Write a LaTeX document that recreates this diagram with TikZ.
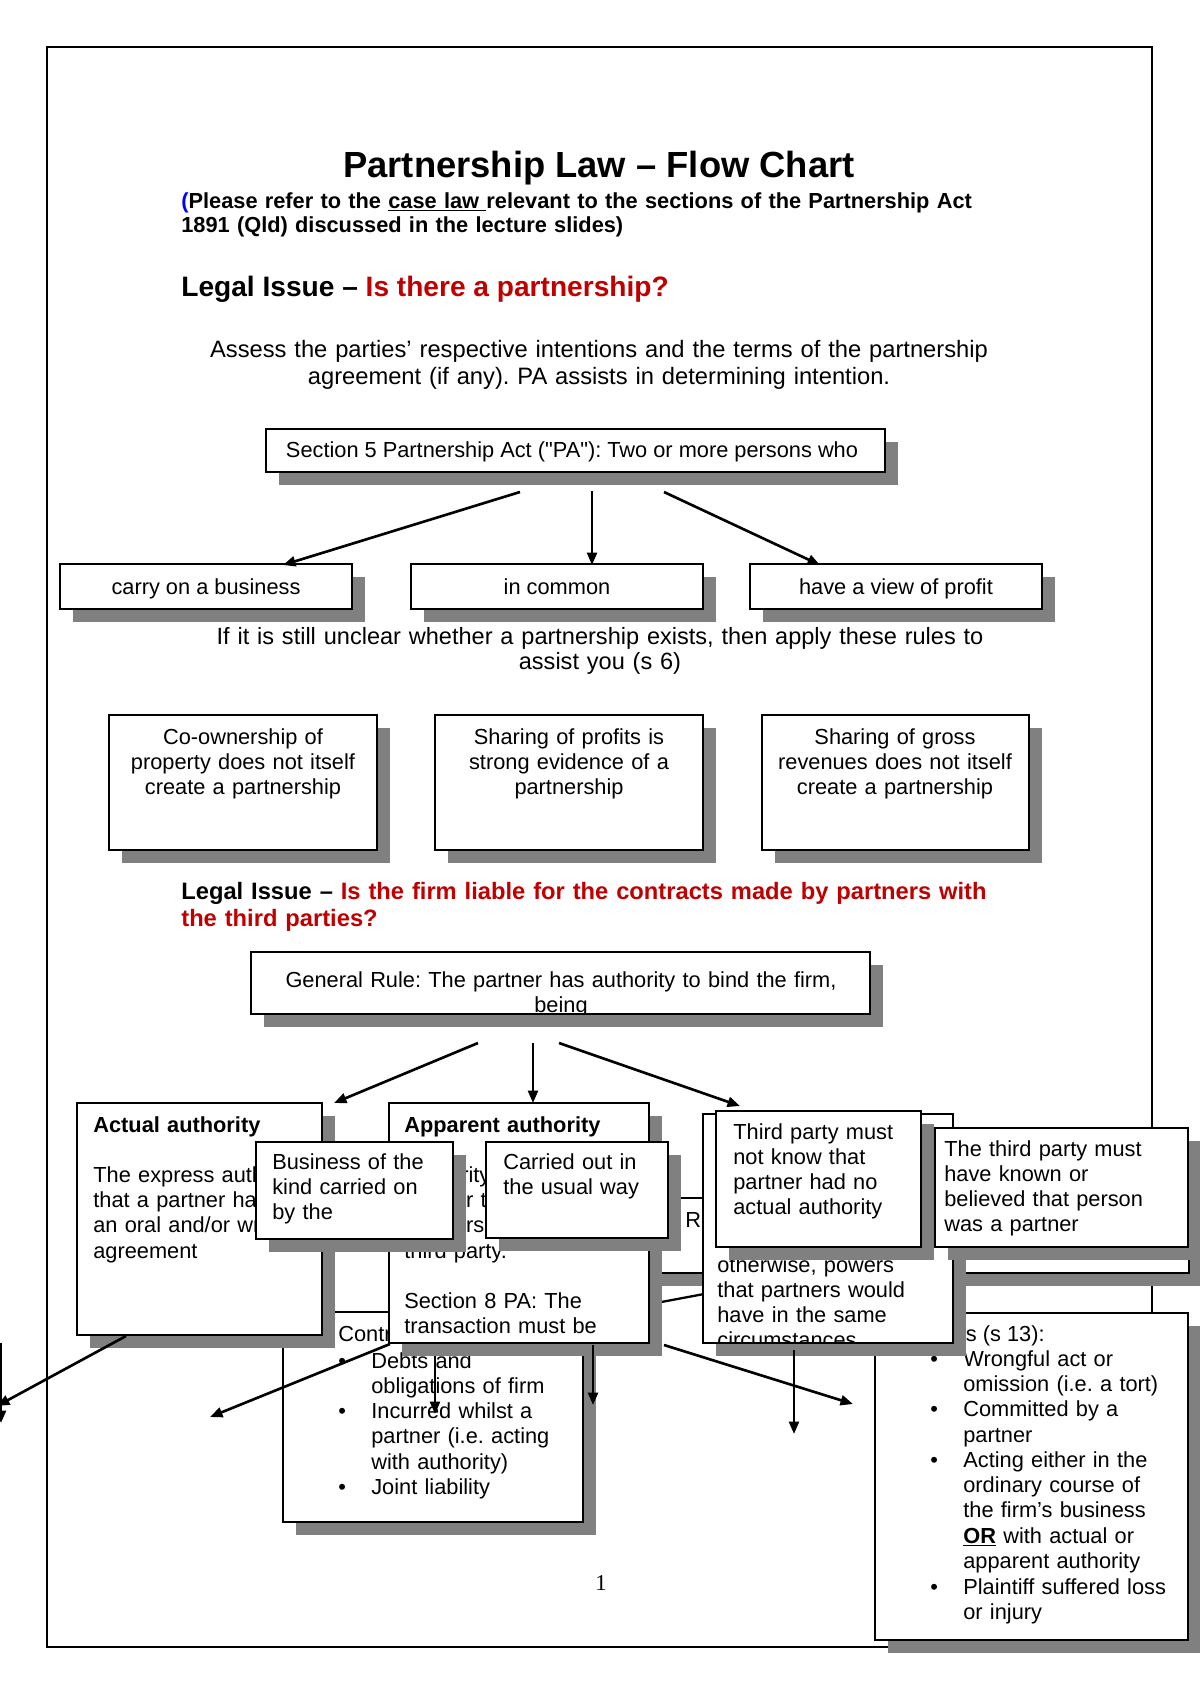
\documentclass[tikz,border=0pt]{standalone}
\usepackage{fontspec}
\setmainfont{Liberation Sans}
\newfontfamily\pagefont{Liberation Serif}
\usetikzlibrary{arrows.meta,shadows,fit}
\definecolor{issuered}{RGB}{192,0,0}
\definecolor{shadegray}{RGB}{128,128,128}
\definecolor{refblue}{RGB}{0,0,255}
\frenchspacing

\begin{document}
\begin{tikzpicture}
  [x=0.02cm,y=-0.02cm,
   box/.style={draw,line width=1.5pt,fill=white,inner sep=0pt,
     drop shadow={shadow xshift=0.26cm,shadow yshift=-0.26cm,fill=shadegray,opacity=1}},
   txt/.style={inner sep=0pt,anchor=base west,align=left,text width=7cm,
     font=\fontsize{12.4}{14.35}\selectfont},
   ctxt/.style={inner sep=0pt,anchor=base,align=center,
     font=\fontsize{12.4}{14.35}\selectfont},
   arr/.style={line width=1.5pt,-{Triangle[length=0.25cm,width=0.2cm]}}]
  \useasboundingbox (0,0) rectangle (1200,1698);
  \draw[line width=1.3pt] (47,47) rectangle (1152,1647);

  \node[inner sep=0pt,anchor=base,font=\fontsize{20.7}{24}\selectfont\bfseries] (title) at (599,177) {Partnership Law – Flow Chart};
  \node[txt,text width=17cm,font=\fontsize{12.4}{14}\selectfont\bfseries] (note) at (181,208) {{\color{refblue}(}Please refer to the \underline{case law }relevant to the sections of the Partnership Act\\1891 (Qld) discussed in the lecture slides)};
  \node[inner sep=0pt,anchor=base west,font=\fontsize{16}{19}\selectfont\bfseries] (issue1) at (181,296) {Legal Issue – \textcolor{issuered}{Is there a partnership?}};
  \node[ctxt,text width=19cm,font=\fontsize{13.5}{15.9}\selectfont] (assess) at (599,357) {Assess the parties’ respective intentions and the terms of the partnership\\agreement (if any). PA assists in determining intention.};

  \node[box,fit={(266,429) (885,472)}] (sec5) {};
  \node[ctxt] (sec5tx) at (572,457) {Section 5 Partnership Act (\textquotedbl PA\textquotedbl): Two or more persons who};

  \node[box,fit={(60,564) (352,609)}] (carry) {};
  \node[ctxt] (carrytx) at (206,594) {carry on a business};
  \node[box,fit={(411,564) (703,609)}] (common) {};
  \node[ctxt] (commontx) at (557,594) {in common};
  \node[box,fit={(750,564) (1042,609)}] (profit) {};
  \node[ctxt] (profittx) at (896,594) {have a view of profit};

  \coordinate (s5l) at (520,492);
  \coordinate (s5m) at (592,491);
  \coordinate (s5r) at (664,492);
  \coordinate (carrytop) at (283,565);
  \coordinate (commontop) at (592,565);
  \coordinate (profittop) at (820,565);
  \foreach \from/\to in {s5l/carrytop,s5m/commontop,s5r/profittop}
    \draw[arr] (\from) -- (\to);

  \node[ctxt,text width=19cm,font=\fontsize{13.4}{14.75}\selectfont] (rules) at (600,644) {If it is still unclear whether a partnership exists, then apply these rules to\\assist you (s 6)};

  \node[box,fit={(109,715) (377,850)}] (coown) {};
  \node[ctxt,text width=5.2cm] (coowntx) at (243,744) {Co-ownership of\\property does not itself\\create a partnership};
  \node[box,fit={(435,715) (703,850)}] (profits) {};
  \node[ctxt,text width=5.2cm] (profitstx) at (569,744) {Sharing of profits is\\strong evidence of a\\partnership};
  \node[box,fit={(762,715) (1029,850)}] (gross) {};
  \node[ctxt,text width=5.2cm] (grosstx) at (895,744) {Sharing of gross\\revenues does not itself\\create a partnership};

  \node[txt,text width=20cm,font=\fontsize{13.5}{15.9}\selectfont\bfseries] (issue2) at (181,899) {Legal Issue – \color{issuered}Is the firm liable for the contracts made by partners with\\the third parties?};

  \node[box,fit={(251,952) (870,1014)}] (rule) {};
  \begin{scope}
    \clip ([yshift=0.75pt]rule.south west) rectangle (rule.north east);
    \node[ctxt,text width=14cm] (ruletx) at (561,987) {General Rule: The partner has authority to bind the firm,\\being};
  \end{scope}

  \coordinate (rl) at (478,1043);
  \coordinate (rm) at (533,1043);
  \coordinate (rr) at (559,1043);
  \coordinate (acttop) at (334,1103);
  \coordinate (apptop) at (533,1103);
  \coordinate (thirdtop) at (740,1106);
  \foreach \from/\to in {rl/acttop,rm/apptop,rr/thirdtop}
    \draw[arr] (\from) -- (\to);

  \node[inner sep=0pt,anchor=base,font=\pagefont\fontsize{12.9}{15}\selectfont] (pageno) at (601,1590) {1};

  \node[box,fit={(283,1312) (583,1522)}] (cont) {};
  \node[txt] (conttx) at (338,1341) {Contracts};
  \foreach \y/\t [count=\i] in {1368/{Debts and\\obligations of firm},1418.6/{Incurred whilst a\\partner (i.e. acting\\with authority)},1494.5/{Joint liability}}
  {
    \node[txt,text width=1cm] (cb\i) at (338,\y) {\textbullet};
    \node[txt,text width=5cm] (ct\i) at (371,\y) {\t};
  }

  \coordinate (appin) at (435,1340);
  \coordinate (contmid) at (435,1414);
  \draw[arr] (appin) -- (contmid);
  \coordinate (appr) at (640,1306);
  \coordinate (powl) at (720,1291);
  \draw[line width=1.3pt] (appr) -- (powl);

  \node[box,fit={(77,1103) (322,1335)}] (actual) {};
  \node[txt] (actualtx) at (93,1132) {\textbf{Actual authority}\\\mbox{}\\The express authority\\that a partner has in\\an oral and/or written\\agreement};

  \node[box,fit={(620,1198) (1189,1273)}] (rbox) {};
  \node[txt] (rboxtx) at (685,1227) {R};

  \node[box,fit={(389,1103) (649,1343)}] (apparent) {};
  \node[txt] (apparenttx) at (404,1132) {\textbf{Apparent authority}\\\mbox{}\\Authority of a\\partner to bind\\partners and the\\third party.\\\mbox{}\\Section 8 PA: The\\transaction must be};

  \node[box,fit={(256,1142) (453,1239)}] (business) {};
  \node[txt] (businesstx) at (272,1169) {Business of the\\kind carried on\\by the};
  \node[box,fit={(486,1142) (668,1238)}] (usual) {};
  \node[txt] (usualtx) at (503,1169) {Carried out in\\the usual way};

  \node[box,fit={(875,1313) (1188,1640)}] (tort) {};
  \node[inner sep=0pt,anchor=base east,font=\fontsize{12.4}{14.35}\selectfont] (torttx) at (1045,1341) {Torts (s 13):};
  \foreach \y/\t [count=\i] in {1366.3/{Wrongful act or\\omission (i.e. a tort)},1416.9/{Committed by a\\partner},1467.5/{Acting either in the\\ordinary course of\\the firm's business\\\underline{\textbf{OR}} with actual or\\apparent authority},1594/{Plaintiff suffered loss\\or injury}}
  {
    \node[txt,text width=1cm] (tb\i) at (930,\y) {\textbullet};
    \node[txt,text width=5cm] (tt\i) at (963,\y) {\t};
  }

  \node[box,fit={(703,1114) (953,1343)}] (powers) {};
  \begin{scope}
    \clip ([yshift=0.75pt]powers.south west) rectangle (powers.north east);
    \node[txt] (powerstx) at (717,1272) {otherwise, powers\\that partners would\\have in the same\\circumstances};
  \end{scope}

  \node[box,fit={(716,1111) (921,1247)}] (noknow) {};
  \node[txt] (noknowtx) at (733,1139) {Third party must\\not know that\\partner had no\\actual authority};
  \node[box,fit={(935,1128) (1188,1247)}] (believed) {};
  \node[txt] (believedtx) at (944,1156) {The third party must\\have known or\\believed that person\\was a partner};

  \coordinate (actlow) at (126,1336);
  \coordinate (actend) at (-3,1406);
  \coordinate (edgetop) at (1,1343);
  \coordinate (edgeend) at (1,1423);
  \coordinate (applow) at (390,1344);
  \coordinate (append) at (210,1417);
  \coordinate (appmid) at (593,1345);
  \coordinate (appdown) at (593,1405);
  \coordinate (appcorner) at (664,1345);
  \coordinate (tortleft) at (853,1404);
  \coordinate (powlow) at (794,1350);
  \coordinate (powend) at (794,1434);
  \foreach \from/\to in {actlow/actend,edgetop/edgeend,applow/append,appmid/appdown,appcorner/tortleft,powlow/powend}
    \draw[arr] (\from) -- (\to);

\end{tikzpicture}
\end{document}
